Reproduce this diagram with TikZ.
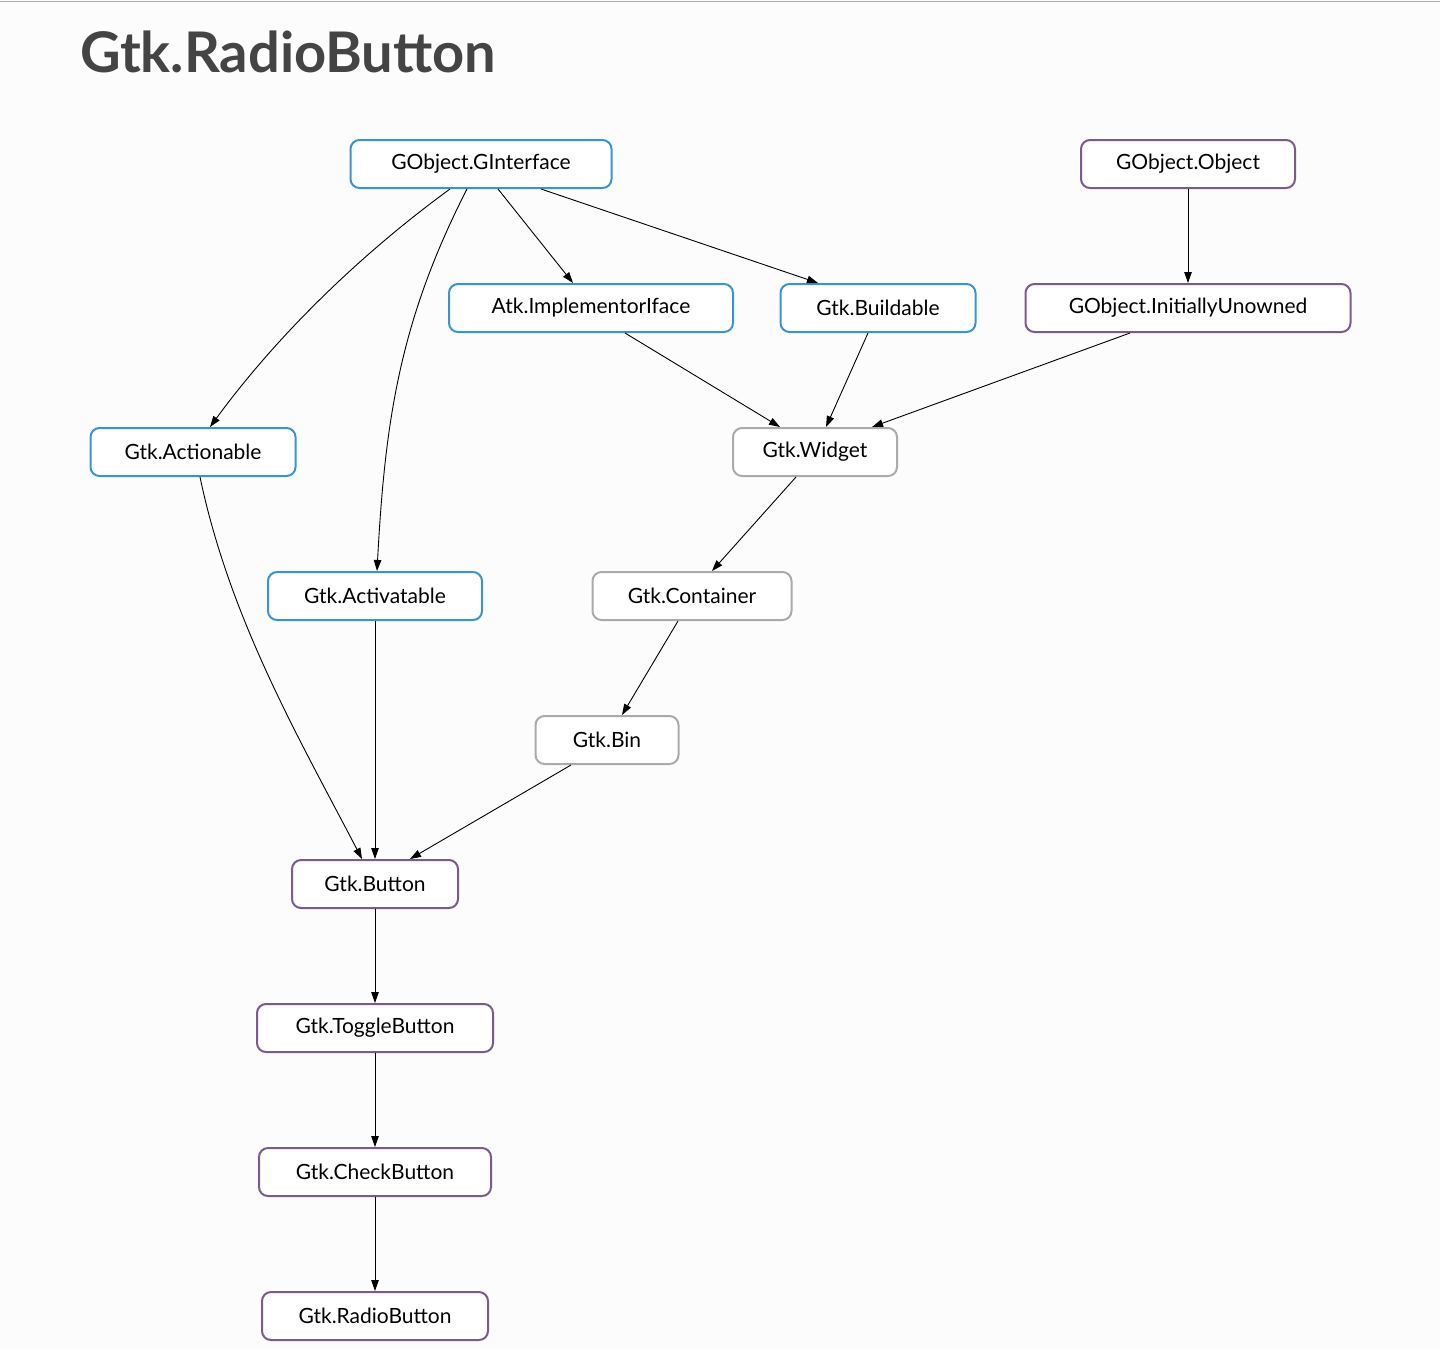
\documentclass[tikz,border=0pt]{standalone}
\usepackage{fontspec}
\setmainfont{Lato}
\usetikzlibrary{arrows.meta}
\definecolor{cblue}{HTML}{3A94D2}
\definecolor{cgray}{HTML}{AAAAAA}
\definecolor{cpurp}{HTML}{7B5B8C}
\definecolor{ctitle}{HTML}{444444}
\begin{document}
\begin{tikzpicture}[x=1pt,y=-1pt,
  box/.style={draw, rounded corners=9pt, line width=2pt, minimum height=48pt, inner sep=0pt, font=\fontsize{21}{24}\selectfont, fill=white},
  bl/.style={box, draw=cblue}, gr/.style={box, draw=cgray}, pu/.style={box, draw=cpurp},
  e/.style={-{Triangle[length=11pt,width=7.5pt]}, line width=0.9pt, black}]
\fill[white!99!black] (0,0) rectangle (1440,1350);
\useasboundingbox (0,0) rectangle (1440,1350);
\draw[cgray, line width=1.5pt] (0,1.5) -- (1440,1.5);
\node[anchor=base west, text=ctitle, font=\fontsize{56}{60}\selectfont\bfseries, inner sep=0pt] (title) at (80,72) {Gtk.RadioButton};
\node[bl, minimum width=261pt] (gi) at (481,164) {GObject.GInterface};
\node[pu, minimum width=214pt] (go) at (1188,164) {GObject.Object};
\node[bl, minimum width=284pt] (atk) at (591,308) {Atk.ImplementorIface};
\node[bl, minimum width=195pt] (bu) at (878,308) {Gtk.Buildable};
\node[pu, minimum width=325pt] (iu) at (1188,308) {GObject.InitiallyUnowned};
\node[bl, minimum width=205pt] (ac) at (193,452) {Gtk.Actionable};
\node[gr, minimum width=164pt] (wi) at (815,452) {Gtk.Widget};
\node[bl, minimum width=214pt] (av) at (375,596) {Gtk.Activatable};
\node[gr, minimum width=199pt] (co) at (692,596) {Gtk.Container};
\node[gr, minimum width=143pt] (bin) at (607,740) {Gtk.Bin};
\node[pu, minimum width=166pt] (btn) at (375,884) {Gtk.Button};
\node[pu, minimum width=236pt] (tb) at (375,1028) {Gtk.ToggleButton};
\node[pu, minimum width=232pt] (cb) at (375,1172) {Gtk.CheckButton};
\node[pu, minimum width=226pt] (rb) at (375,1316) {Gtk.RadioButton};
\draw[e] ([xshift=-31pt]gi.south) .. controls (350,262) and (270,345) .. ([xshift=17pt]ac.north);
\draw[e] ([xshift=-14pt]gi.south) .. controls (400,320) and (385,420) .. ([xshift=2pt]av.north);
\draw[e] ([xshift=17pt]gi.south) -- ([xshift=-18pt]atk.north);
\draw[e] ([xshift=60pt]gi.south) -- ([xshift=-60pt]bu.north);
\draw[e] (go) -- (iu);
\draw[e] ([xshift=34pt]atk.south) -- ([xshift=-35pt]wi.north);
\draw[e] ([xshift=-10pt]bu.south) -- ([xshift=11pt]wi.north);
\draw[e] ([xshift=-58pt]iu.south) -- ([xshift=57pt]wi.north);
\draw[e] ([xshift=-19pt]wi.south) -- ([xshift=20pt]co.north);
\draw[e] ([xshift=-14pt]co.south) -- ([xshift=15pt]bin.north);
\draw[e] ([xshift=7pt]ac.south) .. controls (230,620) and (300,740) .. ([xshift=-13pt]btn.north);
\draw[e] (av) -- (btn);
\draw[e] ([xshift=-36pt]bin.south) -- ([xshift=35pt]btn.north);
\draw[e] (btn) -- (tb);
\draw[e] (tb) -- (cb);
\draw[e] (cb) -- (rb);
\end{tikzpicture}
\end{document}
